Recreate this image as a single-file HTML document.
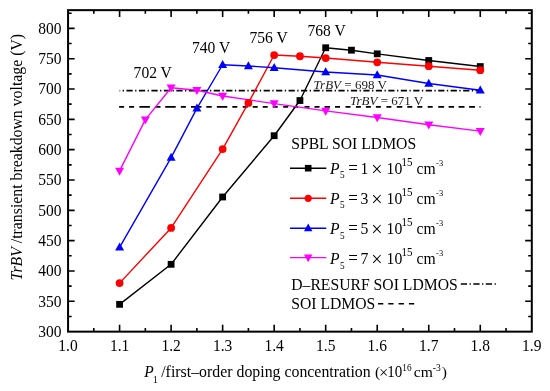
<!DOCTYPE html>
<html><head><meta charset="utf-8"><title>TrBV vs P1</title>
<style>html,body{margin:0;padding:0;background:#fff;width:550px;height:391px;overflow:hidden}svg{display:block}</style>
</head><body>
<svg width="550" height="391" viewBox="0 0 550 391" font-family="'Liberation Serif', 'Times New Roman', serif" fill="#000"><line x1="119.59" y1="90.67" x2="480.27" y2="90.67" stroke="#000" stroke-width="1.6" stroke-dasharray="6.2 2.47 1.3 2.5" stroke-dashoffset="5.6"/>
<path d="M119.1 106.9H124.1M129.1 106.9H134.1M139.4 106.9H149.9M155 106.9H160.5M165.2 106.9H175.7M180.8 106.9H185.9M191 106.9H201.5M206.3 106.9H211.7M216.8 106.9H227.3M232.3 106.9H237.3M242.7 106.9H247.7M252.7 106.9H257.7M262.7 106.9H267.7M272.7 106.9H277.7M283.2 106.9H288.2M293.2 106.9H298.2M304.5 106.9H309.5M314.5 106.9H319.5M324.5 106.9H330M335 106.9H340M345.5 106.9H350.5M355.9 106.9H360.9M365.9 106.9H370.9M375.9 106.9H380.9M386.4 106.9H391.4M396.8 106.9H402.3M407.3 106.9H412.3M417.3 106.9H422.3M427.7 106.9H432.7M438.2 106.9H444.1M448.6 106.9H454.1M458.6 106.9H464.5M469.1 106.9H475M479.5 106.9H480.5" stroke="#000" stroke-width="1.7" fill="none"/>
<polyline points="119.59,304.35 171.11,264.32 222.64,196.98 274.17,135.72 299.93,100.53 325.69,47.76 351.46,50.19 377.22,53.83 428.75,60.5 480.27,66.56" fill="none" stroke="#000" stroke-width="1.4" stroke-linejoin="round"/>
<polyline points="119.59,283.12 171.11,227.92 222.64,149.06 248.4,102.96 274.17,55.04 299.93,56.25 325.69,58.07 377.22,62.32 428.75,66.2 480.27,70.2" fill="none" stroke="#ff0000" stroke-width="1.4" stroke-linejoin="round"/>
<polyline points="119.59,247.33 171.11,157.55 196.88,108.42 222.64,64.74 248.4,65.96 274.17,67.78 325.69,72.02 377.22,75.06 428.75,83.55 480.27,90.22" fill="none" stroke="#0000ff" stroke-width="1.4" stroke-linejoin="round"/>
<polyline points="119.59,170.9 145.35,119.64 171.11,87.8 196.88,90.22 222.64,95.98 274.17,103.57 325.69,110.85 377.22,117.52 428.75,124.8 480.27,131.17" fill="none" stroke="#ff00ff" stroke-width="1.4" stroke-linejoin="round"/>
<rect x="116.19" y="300.95" width="6.8" height="6.8" fill="#000"/>
<rect x="167.71" y="260.92" width="6.8" height="6.8" fill="#000"/>
<rect x="219.24" y="193.58" width="6.8" height="6.8" fill="#000"/>
<rect x="270.77" y="132.32" width="6.8" height="6.8" fill="#000"/>
<rect x="296.53" y="97.13" width="6.8" height="6.8" fill="#000"/>
<rect x="322.29" y="44.36" width="6.8" height="6.8" fill="#000"/>
<rect x="348.06" y="46.79" width="6.8" height="6.8" fill="#000"/>
<rect x="373.82" y="50.43" width="6.8" height="6.8" fill="#000"/>
<rect x="425.35" y="57.1" width="6.8" height="6.8" fill="#000"/>
<rect x="476.87" y="63.16" width="6.8" height="6.8" fill="#000"/>
<circle cx="119.59" cy="283.12" r="3.9" fill="#ff0000"/>
<circle cx="171.11" cy="227.92" r="3.9" fill="#ff0000"/>
<circle cx="222.64" cy="149.06" r="3.9" fill="#ff0000"/>
<circle cx="248.4" cy="102.96" r="3.9" fill="#ff0000"/>
<circle cx="274.17" cy="55.04" r="3.9" fill="#ff0000"/>
<circle cx="299.93" cy="56.25" r="3.9" fill="#ff0000"/>
<circle cx="325.69" cy="58.07" r="3.9" fill="#ff0000"/>
<circle cx="377.22" cy="62.32" r="3.9" fill="#ff0000"/>
<circle cx="428.75" cy="66.2" r="3.9" fill="#ff0000"/>
<circle cx="480.27" cy="70.2" r="3.9" fill="#ff0000"/>
<polygon points="119.59,242.53 115.09,250.53 124.09,250.53" fill="#0000ff"/>
<polygon points="171.11,152.75 166.61,160.75 175.61,160.75" fill="#0000ff"/>
<polygon points="196.88,103.62 192.38,111.62 201.38,111.62" fill="#0000ff"/>
<polygon points="222.64,59.94 218.14,67.94 227.14,67.94" fill="#0000ff"/>
<polygon points="248.4,61.16 243.9,69.16 252.9,69.16" fill="#0000ff"/>
<polygon points="274.17,62.98 269.67,70.98 278.67,70.98" fill="#0000ff"/>
<polygon points="325.69,67.22 321.19,75.22 330.19,75.22" fill="#0000ff"/>
<polygon points="377.22,70.26 372.72,78.26 381.72,78.26" fill="#0000ff"/>
<polygon points="428.75,78.75 424.25,86.75 433.25,86.75" fill="#0000ff"/>
<polygon points="480.27,85.42 475.77,93.42 484.77,93.42" fill="#0000ff"/>
<polygon points="119.59,175.7 115.09,167.7 124.09,167.7" fill="#ff00ff"/>
<polygon points="145.35,124.44 140.85,116.44 149.85,116.44" fill="#ff00ff"/>
<polygon points="171.11,92.6 166.61,84.6 175.61,84.6" fill="#ff00ff"/>
<polygon points="196.88,95.02 192.38,87.02 201.38,87.02" fill="#ff00ff"/>
<polygon points="222.64,100.78 218.14,92.78 227.14,92.78" fill="#ff00ff"/>
<polygon points="274.17,108.37 269.67,100.37 278.67,100.37" fill="#ff00ff"/>
<polygon points="325.69,115.65 321.19,107.65 330.19,107.65" fill="#ff00ff"/>
<polygon points="377.22,122.32 372.72,114.32 381.72,114.32" fill="#ff00ff"/>
<polygon points="428.75,129.6 424.25,121.6 433.25,121.6" fill="#ff00ff"/>
<polygon points="480.27,135.97 475.77,127.97 484.77,127.97" fill="#ff00ff"/>
<path d="M93.82 331.65v-3.6M93.82 10.15v3.6M119.59 331.65v-6.8M119.59 10.15v6.8M145.35 331.65v-3.6M145.35 10.15v3.6M171.11 331.65v-6.8M171.11 10.15v6.8M196.88 331.65v-3.6M196.88 10.15v3.6M222.64 331.65v-6.8M222.64 10.15v6.8M248.4 331.65v-3.6M248.4 10.15v3.6M274.17 331.65v-6.8M274.17 10.15v6.8M299.93 331.65v-3.6M299.93 10.15v3.6M325.69 331.65v-6.8M325.69 10.15v6.8M351.46 331.65v-3.6M351.46 10.15v3.6M377.22 331.65v-6.8M377.22 10.15v6.8M402.98 331.65v-3.6M402.98 10.15v3.6M428.75 331.65v-6.8M428.75 10.15v6.8M454.51 331.65v-3.6M454.51 10.15v3.6M480.27 331.65v-6.8M480.27 10.15v6.8M506.04 331.65v-3.6M506.04 10.15v3.6M68.06 316.48h3.6M531.8 316.48h-3.6M68.06 301.32h6.6M531.8 301.32h-6.6M68.06 286.15h3.6M531.8 286.15h-3.6M68.06 270.99h6.6M531.8 270.99h-6.6M68.06 255.82h3.6M531.8 255.82h-3.6M68.06 240.66h6.6M531.8 240.66h-6.6M68.06 225.49h3.6M531.8 225.49h-3.6M68.06 210.33h6.6M531.8 210.33h-6.6M68.06 195.16h3.6M531.8 195.16h-3.6M68.06 180h6.6M531.8 180h-6.6M68.06 164.83h3.6M531.8 164.83h-3.6M68.06 149.67h6.6M531.8 149.67h-6.6M68.06 134.5h3.6M531.8 134.5h-3.6M68.06 119.34h6.6M531.8 119.34h-6.6M68.06 104.17h3.6M531.8 104.17h-3.6M68.06 89.01h6.6M531.8 89.01h-6.6M68.06 73.84h3.6M531.8 73.84h-3.6M68.06 58.68h6.6M531.8 58.68h-6.6M68.06 43.51h3.6M531.8 43.51h-3.6M68.06 28.35h6.6M531.8 28.35h-6.6M68.06 13.18h3.6M531.8 13.18h-3.6" stroke="#000" stroke-width="1.6" fill="none"/>
<rect x="68.06" y="10.15" width="463.74" height="321.5" fill="none" stroke="#000" stroke-width="2"/>
<g><text transform="translate(68.06,351) scale(1,1.07)" font-size="15.5" text-anchor="middle">1.0</text><text transform="translate(119.59,351) scale(1,1.07)" font-size="15.5" text-anchor="middle">1.1</text><text transform="translate(171.11,351) scale(1,1.07)" font-size="15.5" text-anchor="middle">1.2</text><text transform="translate(222.64,351) scale(1,1.07)" font-size="15.5" text-anchor="middle">1.3</text><text transform="translate(274.17,351) scale(1,1.07)" font-size="15.5" text-anchor="middle">1.4</text><text transform="translate(325.69,351) scale(1,1.07)" font-size="15.5" text-anchor="middle">1.5</text><text transform="translate(377.22,351) scale(1,1.07)" font-size="15.5" text-anchor="middle">1.6</text><text transform="translate(428.75,351) scale(1,1.07)" font-size="15.5" text-anchor="middle">1.7</text><text transform="translate(480.27,351) scale(1,1.07)" font-size="15.5" text-anchor="middle">1.8</text><text transform="translate(531.8,351) scale(1,1.07)" font-size="15.5" text-anchor="middle">1.9</text><text transform="translate(61.4,336.95) scale(1,1.07)" font-size="15.5" text-anchor="end">300</text><text transform="translate(61.4,306.62) scale(1,1.07)" font-size="15.5" text-anchor="end">350</text><text transform="translate(61.4,276.29) scale(1,1.07)" font-size="15.5" text-anchor="end">400</text><text transform="translate(61.4,245.96) scale(1,1.07)" font-size="15.5" text-anchor="end">450</text><text transform="translate(61.4,215.63) scale(1,1.07)" font-size="15.5" text-anchor="end">500</text><text transform="translate(61.4,185.3) scale(1,1.07)" font-size="15.5" text-anchor="end">550</text><text transform="translate(61.4,154.97) scale(1,1.07)" font-size="15.5" text-anchor="end">600</text><text transform="translate(61.4,124.64) scale(1,1.07)" font-size="15.5" text-anchor="end">650</text><text transform="translate(61.4,94.31) scale(1,1.07)" font-size="15.5" text-anchor="end">700</text><text transform="translate(61.4,63.98) scale(1,1.07)" font-size="15.5" text-anchor="end">750</text><text transform="translate(61.4,33.65) scale(1,1.07)" font-size="15.5" text-anchor="end">800</text></g>
<g><text transform="translate(133.6,78.3) scale(1,1.06)" font-size="15.6">702 V</text><text transform="translate(191.9,52.9) scale(1,1.06)" font-size="15.6">740 V</text><text transform="translate(249.5,43) scale(1,1.06)" font-size="15.6">756 V</text><text transform="translate(307.4,35.8) scale(1,1.06)" font-size="15.6">768 V</text></g>
<g fill="#1a1a1a"><text transform="translate(313.6,88.9) scale(1,1)" font-size="13"><tspan font-style="italic">TrBV</tspan> = 698 V</text><text transform="translate(350,104.7) scale(1,1)" font-size="13"><tspan font-style="italic">TrBV</tspan> = 671 V</text></g>
<g><text transform="translate(291.2,148.6) scale(1,1.07)" font-size="15.7">SPBL SOI LDMOS</text><line x1="290" y1="168.2" x2="326.3" y2="168.2" stroke="#000" stroke-width="1.4"/><rect x="304.9" y="164.9" width="6.6" height="6.6" fill="#000"/><text transform="translate(330,173.5) scale(1,1.07)" font-size="15.7"><tspan font-style="italic">P</tspan></text><text transform="translate(340,178.4) scale(1,1.07)" font-size="9.3">5</text><text transform="translate(348.3,173.5) scale(1,1.07)" font-size="17">=</text><text transform="translate(360.6,173.5) scale(1,1.07)" font-size="15.7">1</text><text transform="translate(371.2,175.9) scale(1,1)" font-size="20">×</text><text transform="translate(386.6,173.5) scale(1,1.07)" font-size="15.7">10</text><text transform="translate(401.4,165.9) scale(1,1.07)" font-size="11">15</text><text transform="translate(416.5,173.5) scale(1,1.07)" font-size="15.7">cm</text><text transform="translate(436.1,165.9) scale(1,1.07)" font-size="8.5">-3</text><line x1="290" y1="198.3" x2="326.3" y2="198.3" stroke="#ff0000" stroke-width="1.4"/><circle cx="308.2" cy="198.3" r="3.6" fill="#ff0000"/><text transform="translate(330,203.5) scale(1,1.07)" font-size="15.7"><tspan font-style="italic">P</tspan></text><text transform="translate(340,208.4) scale(1,1.07)" font-size="9.3">5</text><text transform="translate(348.3,203.5) scale(1,1.07)" font-size="17">=</text><text transform="translate(360.6,203.5) scale(1,1.07)" font-size="15.7">3</text><text transform="translate(371.2,205.9) scale(1,1)" font-size="20">×</text><text transform="translate(386.6,203.5) scale(1,1.07)" font-size="15.7">10</text><text transform="translate(401.4,195.9) scale(1,1.07)" font-size="11">15</text><text transform="translate(416.5,203.5) scale(1,1.07)" font-size="15.7">cm</text><text transform="translate(436.1,195.9) scale(1,1.07)" font-size="8.5">-3</text><line x1="290" y1="228.2" x2="326.3" y2="228.2" stroke="#0000ff" stroke-width="1.4"/><polygon points="308.2,223.52 304,231.32 312.4,231.32" fill="#0000ff"/><text transform="translate(330,234) scale(1,1.07)" font-size="15.7"><tspan font-style="italic">P</tspan></text><text transform="translate(340,238.9) scale(1,1.07)" font-size="9.3">5</text><text transform="translate(348.3,234) scale(1,1.07)" font-size="17">=</text><text transform="translate(360.6,234) scale(1,1.07)" font-size="15.7">5</text><text transform="translate(371.2,236.4) scale(1,1)" font-size="20">×</text><text transform="translate(386.6,234) scale(1,1.07)" font-size="15.7">10</text><text transform="translate(401.4,226.4) scale(1,1.07)" font-size="11">15</text><text transform="translate(416.5,234) scale(1,1.07)" font-size="15.7">cm</text><text transform="translate(436.1,226.4) scale(1,1.07)" font-size="8.5">-3</text><line x1="290" y1="257.6" x2="326.3" y2="257.6" stroke="#ff00ff" stroke-width="1.4"/><polygon points="308.2,262.28 304,254.48 312.4,254.48" fill="#ff00ff"/><text transform="translate(330,263.8) scale(1,1.07)" font-size="15.7"><tspan font-style="italic">P</tspan></text><text transform="translate(340,268.7) scale(1,1.07)" font-size="9.3">5</text><text transform="translate(348.3,263.8) scale(1,1.07)" font-size="17">=</text><text transform="translate(360.6,263.8) scale(1,1.07)" font-size="15.7">7</text><text transform="translate(371.2,266.2) scale(1,1)" font-size="20">×</text><text transform="translate(386.6,263.8) scale(1,1.07)" font-size="15.7">10</text><text transform="translate(401.4,256.2) scale(1,1.07)" font-size="11">15</text><text transform="translate(416.5,263.8) scale(1,1.07)" font-size="15.7">cm</text><text transform="translate(436.1,256.2) scale(1,1.07)" font-size="8.5">-3</text><text transform="translate(291.2,289.6) scale(1,1.07)" font-size="15.7">D–RESURF SOI LDMOS</text><text transform="translate(291.2,308.7) scale(1,1.07)" font-size="15.7">SOI LDMOS</text><line x1="460.8" y1="283.9" x2="496" y2="283.9" stroke="#000" stroke-width="1.5" stroke-dasharray="6.3 2.45 1.3 2.45"/><line x1="378" y1="303.7" x2="414.2" y2="303.7" stroke="#000" stroke-width="1.6" stroke-dasharray="5.3 5"/></g>
<text font-size="15.8" transform="translate(22.3,280.5) rotate(-90)"><tspan font-style="italic">TrBV</tspan> /transient breakdown voltage (V)</text>
<g><text transform="translate(144.3,377.4) scale(1,1.05)" font-size="15.5"><tspan font-style="italic">P</tspan></text><text transform="translate(153,382.6) scale(1,1.05)" font-size="9.8">1</text><text transform="translate(161.2,377.4) scale(1,1.05)" font-size="15.85">/first–order doping concentration</text><text transform="translate(375,377.4) scale(1,0.9)" font-size="15.6">(</text><text transform="translate(379,377.7) scale(1,1)" font-size="16.5">×</text><text transform="translate(387.3,377.4) scale(1,1.08)" font-size="15">10</text><text transform="translate(402.3,371) scale(1,1.08)" font-size="9.2">16</text><text transform="translate(413.8,377.4) scale(1,1)" font-size="15.6">cm</text><text transform="translate(432.8,370.9) scale(1,1)" font-size="9.5">-3</text><text transform="translate(441.8,377.4) scale(1,0.9)" font-size="15.6">)</text></g></svg>
</body></html>
